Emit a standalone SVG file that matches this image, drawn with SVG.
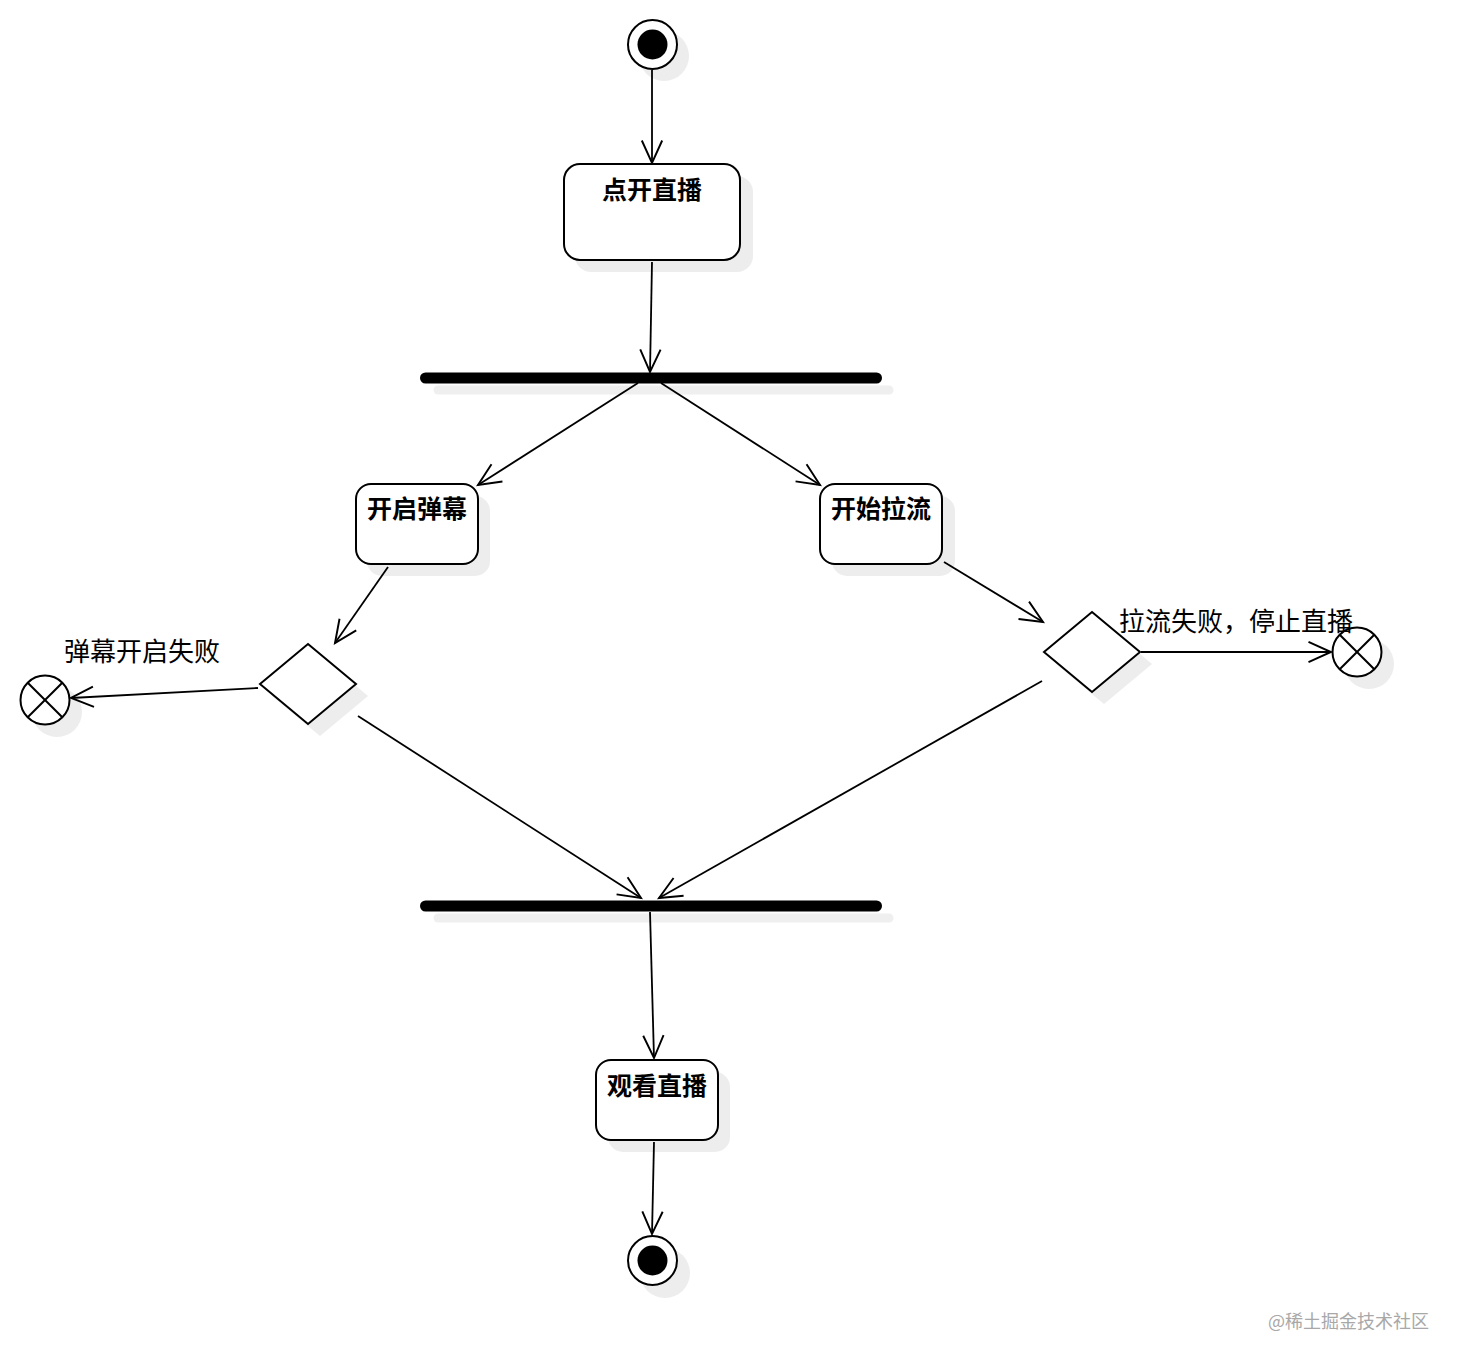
<svg xmlns="http://www.w3.org/2000/svg" width="1462" height="1366" viewBox="0 0 1462 1366">
<defs>
<style>
.sh{fill:#ededed;stroke:none}
.box{fill:#fff;stroke:#000;stroke-width:2}
.bar{stroke:#000;stroke-width:11;stroke-linecap:round;fill:none}
.barsh{stroke:#efefef;stroke-width:9;stroke-linecap:round;fill:none}
.ink{fill:#000;stroke:none}
.x{stroke:#000;stroke-width:2;fill:none}
.edge{stroke:#000;stroke-width:1.8;fill:none;marker-end:url(#open)}
.lb{font-family:"Noto Sans CJK SC","Noto Sans",sans-serif;font-size:25px;font-weight:bold;fill:#000;text-anchor:middle}
.lt{font-family:"Noto Sans CJK SC","Noto Sans",sans-serif;font-size:26px;fill:#000}
.wm{font-family:"Noto Sans CJK SC","Noto Sans",sans-serif;font-size:18px;fill:#a8a8a8}
</style>
<marker id="open" markerUnits="userSpaceOnUse" markerWidth="30" markerHeight="30" viewBox="-24 -12 28 24" refX="0" refY="0" orient="auto">
<path d="M-21,-9.5 L0,0 L-21,9.5" fill="none" stroke="#000" stroke-width="1.8"/>
</marker>
</defs>
<rect width="1462" height="1366" fill="#fff"/>

<g id="start">
<circle class="sh" cx="664" cy="56" r="25"/>
<circle class="box" cx="652.5" cy="44.5" r="24.5"/>
<circle class="ink" cx="652.5" cy="44.5" r="15"/>
</g>

<g id="n-open">
<rect class="sh" x="575" y="176" width="178" height="96" rx="16"/>
<rect class="box" x="564" y="164" width="176" height="96" rx="16"/>
<text class="lb" x="652" y="199">点开直播</text>
</g>

<g id="fork1">
<line class="barsh" x1="438" y1="390" x2="889" y2="390"/>
<line class="bar" x1="425.5" y1="378" x2="876.5" y2="378"/>
</g>

<g id="n-danmu">
<rect class="sh" x="367" y="496" width="123" height="80" rx="15"/>
<rect class="box" x="356" y="484" width="122" height="80" rx="15"/>
<text class="lb" x="417" y="518">开启弹幕</text>
</g>

<g id="n-pull">
<rect class="sh" x="832" y="496" width="123" height="80" rx="15"/>
<rect class="box" x="820" y="484" width="122" height="80" rx="15"/>
<text class="lb" x="881" y="518">开始拉流</text>
</g>

<g id="dec-left">
<polygon class="sh" points="320,656 368,696 320,736 272,696"/>
<polygon class="box" points="308,644 356,684 308,724 260,684"/>
</g>

<g id="dec-right">
<polygon class="sh" points="1104,624 1152,664 1104,704 1056,664"/>
<polygon class="box" points="1092,612 1140,652 1092,692 1044,652"/>
</g>

<g id="end-left">
<circle class="sh" cx="57" cy="712" r="25"/>
<circle class="box" cx="45" cy="700" r="24.5"/>
<line class="x" x1="27.7" y1="682.7" x2="62.3" y2="717.3"/>
<line class="x" x1="62.3" y1="682.7" x2="27.7" y2="717.3"/>
</g>

<g id="end-right">
<circle class="sh" cx="1369" cy="664" r="25"/>
<circle class="box" cx="1357" cy="652" r="24.5"/>
<line class="x" x1="1339.7" y1="634.7" x2="1374.3" y2="669.3"/>
<line class="x" x1="1374.3" y1="634.7" x2="1339.7" y2="669.3"/>
</g>

<g id="join1">
<line class="barsh" x1="438" y1="918" x2="889" y2="918"/>
<line class="bar" x1="425.5" y1="906" x2="876.5" y2="906"/>
</g>

<g id="n-watch">
<rect class="sh" x="608" y="1072" width="122" height="80" rx="15"/>
<rect class="box" x="596" y="1060" width="122" height="80" rx="15"/>
<text class="lb" x="657" y="1095">观看直播</text>
</g>

<g id="end">
<circle class="sh" cx="665" cy="1273" r="25"/>
<circle class="box" cx="652.5" cy="1260.5" r="24.5"/>
<circle class="ink" cx="652.5" cy="1260.5" r="15"/>
</g>

<g id="labels">
<text class="lt" x="64" y="661">弹幕开启失败</text>
<text class="lt" x="1119" y="631">拉流失败，停止直播</text>
</g>

<g id="connectors">
<line class="edge" x1="652" y1="70" x2="652" y2="163"/>
<line class="edge" x1="652" y1="262" x2="650" y2="372"/>
<line class="edge" x1="638" y1="383" x2="478" y2="485"/>
<line class="edge" x1="661" y1="383" x2="820" y2="485"/>
<line class="edge" x1="388" y1="567" x2="335" y2="643"/>
<line class="edge" x1="258" y1="688" x2="71" y2="698"/>
<line class="edge" x1="944" y1="562" x2="1043" y2="622"/>
<line class="edge" x1="1141" y1="652" x2="1331" y2="652"/>
<line class="edge" x1="358" y1="716" x2="641" y2="898"/>
<line class="edge" x1="1042" y1="681" x2="659" y2="898"/>
<line class="edge" x1="650" y1="912" x2="654" y2="1058"/>
<line class="edge" x1="654" y1="1142" x2="652" y2="1234"/>
</g>

<text class="wm" x="1268" y="1328">@稀土掘金技术社区</text>
</svg>
